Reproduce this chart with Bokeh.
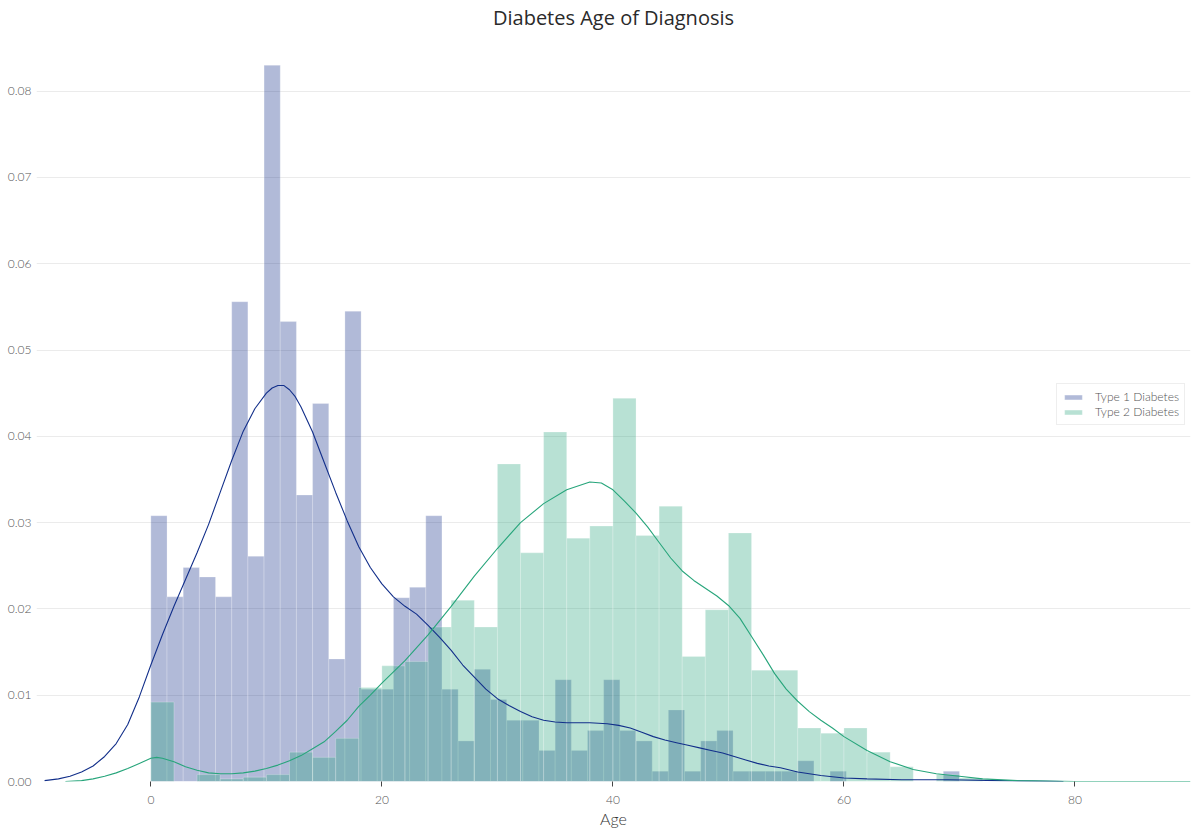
from bokeh.plotting import figure
from bokeh.models import FixedTicker, NumeralTickFormatter, Legend, LegendItem, Range1d
from bokeh.embed import file_html
from bokeh.resources import INLINE

# ---------------- data ----------------
series_names = ["Type 1 Diabetes", "Type 2 Diabetes"]

t1_bin_start = 0.0
t1_bin_size = 1.4
t1_density = [0.0308, 0.0214, 0.0248, 0.0237, 0.0214, 0.0556, 0.0261, 0.0830, 0.0533, 0.0332,
              0.0438, 0.0142, 0.0545, 0.0107, 0.0107, 0.0213, 0.0225, 0.0308, 0.0107, 0.0047,
              0.0130, 0.0095, 0.0071, 0.0071, 0.0036, 0.0118, 0.0036, 0.0059, 0.0118, 0.0059,
              0.0047, 0.0012, 0.0083, 0.0012, 0.0047, 0.0059, 0.0012, 0.0012, 0.0012, 0.0012,
              0.0024, 0.0, 0.0012, 0.0, 0.0, 0.0, 0.0, 0.0, 0.0, 0.0012]

t2_bin_start = 0.0
t2_bin_size = 2.0
t2_density = [0.0092, 0.0, 0.0008, 0.0003, 0.0005, 0.0008, 0.0034, 0.0028, 0.0050, 0.0109,
              0.0134, 0.0139, 0.0179, 0.0210, 0.0179, 0.0368, 0.0265, 0.0405, 0.0282, 0.0296,
              0.0444, 0.0285, 0.0319, 0.0145, 0.0199, 0.0288, 0.0129, 0.0129, 0.0062, 0.0056,
              0.0062, 0.0034, 0.0017, 0.0, 0.0008, 0.0004]

t1_kde_x = [-9.2, -8, -7, -6, -5, -4, -3, -2, -1, 0, 1, 2, 3, 4, 5, 6, 7, 8, 9, 10, 10.5, 11,
            11.5, 12, 12.5, 13, 14, 15, 16, 17, 18, 19, 20, 21, 22, 23, 24, 25, 26, 27, 28, 29,
            30, 31, 32, 33, 34, 35, 36, 38, 39.5, 40.5, 41.5, 42.5, 43.5, 44.5, 45.5, 46.5, 47.5,
            48.5, 49.5, 50.5, 51.5, 52.5, 53.5, 54.5, 56, 58, 60, 62, 65, 69, 73.5, 79]
t1_kde_y = [0.0001, 0.0003, 0.0006, 0.0011, 0.0018, 0.0029, 0.0044, 0.0066, 0.0098, 0.0135,
            0.0170, 0.0203, 0.0234, 0.0265, 0.0298, 0.0335, 0.0372, 0.0406, 0.0432, 0.0450,
            0.0456, 0.0459, 0.0459, 0.0454, 0.0446, 0.0434, 0.0405, 0.0370, 0.0335, 0.0302,
            0.0272, 0.0248, 0.0229, 0.0214, 0.0203, 0.0194, 0.0181, 0.0167, 0.0152, 0.0135,
            0.0121, 0.0107, 0.0096, 0.0088, 0.0081, 0.0075, 0.0071, 0.0069, 0.0068, 0.0068,
            0.0067, 0.0065, 0.0062, 0.0057, 0.0052, 0.0048, 0.0045, 0.0042, 0.0039, 0.0036,
            0.0033, 0.0029, 0.0025, 0.0021, 0.0018, 0.0016, 0.0011, 0.0007, 0.0004, 0.0003,
            0.0002, 0.0002, 0.0001, 0.0]

t2_kde_x = [-7.4, -6, -5, -4, -3, -2, -1, 0, 0.5, 1, 2, 3, 4, 5, 6, 7, 8, 9, 10, 11, 12, 13,
            14, 15, 16, 17, 18, 19, 20, 22, 24, 26, 28, 30, 32, 34, 36, 38, 39, 40, 41, 42, 43,
            44, 45, 46, 47, 48, 49, 50, 51, 52, 53, 54, 55, 56, 57, 58, 59, 60, 62, 64, 66, 68,
            70, 72, 75, 80, 90]
t2_kde_y = [0.0, 0.0001, 0.0003, 0.0006, 0.0010, 0.0015, 0.0021, 0.0027, 0.0028, 0.0027,
            0.0023, 0.0017, 0.0013, 0.0010, 0.0009, 0.0009, 0.0010, 0.0012, 0.0015, 0.0019,
            0.0024, 0.0030, 0.0038, 0.0046, 0.0058, 0.0071, 0.0087, 0.0100, 0.0114, 0.0140,
            0.0170, 0.0203, 0.0238, 0.0270, 0.0300, 0.0322, 0.0338, 0.0347, 0.0346, 0.0338,
            0.0325, 0.0311, 0.0295, 0.0277, 0.0259, 0.0244, 0.0233, 0.0224, 0.0215, 0.0204,
            0.0189, 0.0168, 0.0147, 0.0125, 0.0107, 0.0093, 0.0081, 0.0071, 0.0062, 0.0052,
            0.0036, 0.0023, 0.0014, 0.0009, 0.0006, 0.0003, 0.0001, 0.0, 0.0]

x_ticks = [0, 20, 40, 60, 80]
y_ticks = [0.00, 0.01, 0.02, 0.03, 0.04, 0.05, 0.06, 0.07, 0.08]

BLUE = "#122f8a"
GREEN = "#27a57b"
TICK_FONT = "'Lato Light', Lato"

# ---------------- figure ----------------
p = figure(width=1200, height=837, output_backend="svg", toolbar_location=None,
           x_range=Range1d(-9.9, 90.0), y_range=Range1d(0, 0.0868),
           min_border_left=36, min_border_right=10, min_border_top=32, min_border_bottom=56)
p.outline_line_color = None
p.background_fill_color = "white"
p.border_fill_color = "white"

p.title.text = "Diabetes Age of Diagnosis"
p.title.align = "center"
p.title.text_font = "Open Sans"
p.title.text_font_size = "20px"
p.title.text_font_style = "normal"
p.title.text_color = "#2a2a2a"
p.title.standoff = 3

def edges(start, size, n):
    lefts = [start + i * size for i in range(n)]
    rights = [start + (i + 1) * size for i in range(n)]
    return lefts, rights

l1, r1 = edges(t1_bin_start, t1_bin_size, len(t1_density))
l2, r2 = edges(t2_bin_start, t2_bin_size, len(t2_density))

h1 = p.quad(left=l1, right=r1, bottom=0, top=t1_density, fill_color=BLUE, fill_alpha=0.33,
            line_color="white", line_alpha=0.3, line_width=0.8)
h2 = p.quad(left=l2, right=r2, bottom=0, top=t2_density, fill_color=GREEN, fill_alpha=0.33,
            line_color="white", line_alpha=0.3, line_width=0.8)

p.line(t1_kde_x, t1_kde_y, line_color=BLUE, line_width=1.1)
p.line(t2_kde_x, t2_kde_y, line_color=GREEN, line_width=1.1)

# axes
p.xgrid.grid_line_color = None
p.ygrid.grid_line_color = "#ebebeb"
p.ygrid.grid_line_width = 1
p.ygrid.ticker = FixedTicker(ticks=y_ticks)

p.yaxis.ticker = FixedTicker(ticks=y_ticks)
p.yaxis.formatter = NumeralTickFormatter(format="0.00")
p.yaxis.axis_line_color = None
p.yaxis.major_tick_line_color = None
p.yaxis.minor_tick_line_color = None
p.yaxis.major_tick_in = 0
p.yaxis.major_tick_out = 0
p.yaxis.major_label_standoff = 5
p.yaxis.major_label_text_font = TICK_FONT
p.yaxis.major_label_text_font_size = "12px"
p.yaxis.major_label_text_color = "#555555"

p.xaxis.ticker = FixedTicker(ticks=x_ticks)
p.xaxis.axis_line_color = None
p.xaxis.major_tick_line_color = "#444444"
p.xaxis.major_tick_in = 0
p.xaxis.major_tick_out = 5
p.xaxis.minor_tick_line_color = None
p.xaxis.major_label_standoff = 9
p.xaxis.major_label_text_font = TICK_FONT
p.xaxis.major_label_text_font_size = "12px"
p.xaxis.major_label_text_color = "#555555"
p.xaxis.axis_label = "Age"
p.xaxis.axis_label_text_font = TICK_FONT
p.xaxis.axis_label_text_font_size = "16px"
p.xaxis.axis_label_text_font_style = "normal"
p.xaxis.axis_label_text_color = "#333333"
p.xaxis.axis_label_standoff = 2

legend = Legend(items=[LegendItem(label=series_names[0], renderers=[h1]),
                       LegendItem(label=series_names[1], renderers=[h2])],
                location=(1020, 356))
legend.border_line_color = "#dddddd"
legend.border_line_width = 1
legend.background_fill_color = "white"
legend.background_fill_alpha = 1
legend.label_text_font = TICK_FONT
legend.label_text_font_size = "12px"
legend.label_text_color = "#555555"
legend.glyph_width = 22
legend.glyph_height = 6
legend.label_height = 13
legend.spacing = 0
legend.padding = 5
legend.margin = 0
legend.label_standoff = 11
p.add_layout(legend, "center")

open("out.html", "w").write(file_html(p, INLINE))
